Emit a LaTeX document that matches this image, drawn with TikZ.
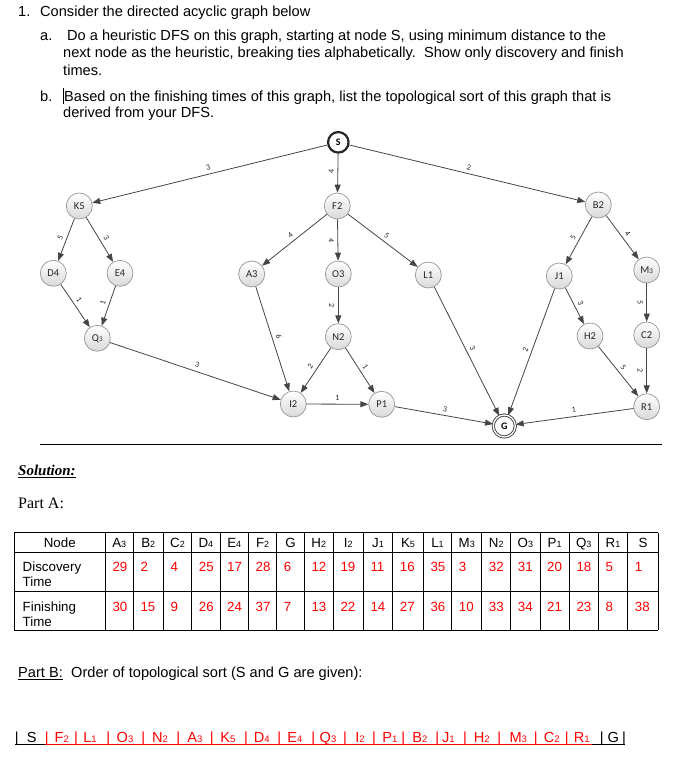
\documentclass[tikz,border=0pt]{standalone}
\usepackage{fontspec}
\setmainfont{Liberation Sans}
\newfontfamily\serifF{Liberation Serif}
\newfontfamily\calF{Carlito}
\usetikzlibrary{arrows.meta}
\newcommand\dg[1]{{\fontsize{9}{9}\selectfont #1}}
\newcommand\sdg[1]{{\fontsize{9.5}{9.5}\selectfont #1}}
\newcommand\ndg[1]{{\fontsize{7}{7}\selectfont #1}}
\definecolor{edgegray}{HTML}{454545}
\definecolor{nodegray}{HTML}{969696}
\begin{document}
\begin{tikzpicture}[x=1pt,y=-1pt,
  txt/.style={anchor=base west, inner sep=0pt, font=\fontsize{14.6}{17}\selectfont},
  sertxt/.style={anchor=base west, inner sep=0pt, font=\serifF\fontsize{16}{18}\selectfont},
  vtx/.style={circle, draw=nodegray, line width=0.7pt, top color=white, bottom color=black!15,
    minimum size=26pt, inner sep=0pt, font=\calF\fontsize{10.5}{10.5}\selectfont, text=black!85},
  conn/.style={draw=edgegray, line width=0.8pt, -{Triangle[length=8pt,width=6pt]}},
  lbl/.style={font=\calF\fontsize{8}{8}\selectfont, text=black!85, inner sep=1.5pt, sloped, midway},
  tabtxt/.style={inner sep=0pt, font=\fontsize{13.33}{15.3}\selectfont},
  seq/.style={anchor=base, inner sep=0pt, font=\fontsize{14.6}{17}\selectfont},
]
\useasboundingbox (0,0) rectangle (678,760);

% ---------- question text ----------
\node[txt] (q1n) at (18,17) {1.};
\node[txt] (q1) at (40,17) {Consider the directed acyclic graph below};
\node[txt] (qan) at (40,41) {a.};
\node[txt] (qa1) at (67,41) {Do a heuristic DFS on this graph, starting at node S, using minimum distance to the};
\node[txt] (qa2) at (63,58) {next node as the heuristic, breaking ties alphabetically.\ \ Show only discovery and finish};
\node[txt] (qa3) at (63,75) {times.};
\node[txt] (qbn) at (40,101) {b.};
\node[txt] (qb1) at (64,101) {Based on the finishing times of this graph, list the topological sort of this graph that is};
\node[txt] (qb2) at (63,117) {derived from your DFS.};
\draw[line width=0.6pt] (63,88) -- (63,104);

% ---------- graph ----------
\node[circle, draw=black!85, line width=2.2pt, fill=white, minimum size=20.5pt, inner sep=0pt,
  font=\calF\bfseries\fontsize{10}{10}\selectfont] (S) at (338.3,142.3) {S};
\node[vtx] (K5) at (79.3,206) {K5};
\node[vtx] (F2) at (337.3,206) {F2};
\node[vtx] (B2) at (598.3,205) {B2};
\node[vtx] (D4) at (53.3,273.3) {D4};
\node[vtx] (E4) at (120,273.3) {E4};
\node[vtx] (A3) at (251.7,274) {A3};
\node[vtx] (O3) at (338.3,274) {O3};
\node[vtx] (L1) at (428.3,275) {L1};
\node[vtx] (J1) at (559.3,276) {J1};
\node[vtx] (M3) at (646.7,270) {M\ndg{3}};
\node[vtx] (Q3) at (97.3,338.3) {Q\ndg{3}};
\node[vtx] (N2) at (338.3,336.7) {N2};
\node[vtx] (H2) at (590,336) {H2};
\node[vtx] (C2) at (646.7,335) {C2};
\node[vtx] (I2) at (293.3,404) {I2};
\node[vtx] (P1) at (381.7,404.3) {P1};
\node[vtx] (R1) at (646.7,406.7) {R1};
\node[circle, draw=black!75, line width=0.9pt, double=white, double distance=1.3pt, fill=white,
  minimum size=22pt, inner sep=0pt, font=\calF\bfseries\fontsize{10}{10}\selectfont] (G) at (504.3,426) {G};

\draw[conn] (S) -- node[lbl, above=2pt] {3} (K5);
\draw[conn] (S) -- node[lbl, pos=0.46, above=2pt] {4} (F2);
\draw[conn] (S) -- node[lbl, above=2pt] {2} (B2);
\draw[conn] (K5) -- node[lbl, above=2pt] {5} (D4);
\draw[conn] (K5) -- node[lbl, pos=0.54, above=2pt] {3} (E4);
\draw[conn] (F2) -- node[lbl, above=2pt] {4} (A3);
\draw[conn] (F2) -- node[lbl, below=2pt] {4} (O3);
\draw[conn] (F2) -- node[lbl, above=2pt] {5} (L1);
\draw[conn] (B2) -- node[lbl, above=2pt] {5} (J1);
\draw[conn] (B2) -- node[lbl, above=2pt] {4} (M3);
\draw[conn] (D4) -- node[lbl, pos=0.45, above=2pt] {1} (Q3);
\draw[conn] (E4) -- node[lbl, pos=0.47, above=2pt] {1} (Q3);
\draw[conn] (A3) -- node[lbl, above=2pt] {6} (I2);
\draw[conn] (O3) -- node[lbl, below=2pt] {2} (N2);
\draw[conn] (L1) -- node[lbl, above=2pt] {3} (G);
\draw[conn] (J1) -- node[lbl, above=2pt] {2} (G);
\draw[conn] (J1) -- node[lbl, above=2pt] {3} (H2);
\draw[conn] (M3) -- node[lbl, below=2pt] {5} (C2);
\draw[conn] (Q3) -- node[lbl, above=2pt] {3} (I2);
\draw[conn] (N2) -- node[lbl, above=2pt] {2} (I2);
\draw[conn] (N2) -- node[lbl, above=2pt] {1} (P1);
\draw[conn] (H2) -- node[lbl, above=2pt] {5} (R1);
\draw[conn] (C2) -- node[lbl, below=2pt] {2} (R1);
\draw[conn] (I2) -- node[lbl, above=2pt] {1} (P1);
\draw[conn] (P1) -- node[lbl, above=2pt] {3} (G);
\draw[conn] (R1) -- node[lbl, above=2pt] {1} (G);

% rule
\draw[line width=0.9pt] (40,444.5) -- (662,444.5);

% ---------- solution ----------
\node[anchor=base west, inner sep=0pt, font=\serifF\bfseries\itshape\fontsize{15}{18}\selectfont] (sol) at (18,475) {Solution:};
\draw[line width=0.8pt] ([yshift=-2pt]sol.base west) -- ([yshift=-2pt]sol.base east);
\node[sertxt] (pa) at (18,508) {Part A:};

% ---------- table ----------
\foreach \y in {532.5,552.7,591.7,630}
  \draw[line width=0.9pt] (14.3,\y) -- (658.3,\y);
\foreach \x in {14.3,105.3,133.3,163.3,191.7,220,248.5,276.7,304.3,333.3,363.3,392.7,423.3,451.7,481.7,510.7,540,569.3,598.3,627.7,658.3}
  \draw[line width=0.9pt] (\x,532.5) -- (\x,630);
\node[tabtxt, anchor=base] (hnode) at (59.8,547.4) {Node};
\node[tabtxt, anchor=base west] (rd1) at (22.5,571.5) {Discovery};
\node[tabtxt, anchor=base west] (rd2) at (22.5,586.8) {Time};
\node[tabtxt, anchor=base west] (rf1) at (22.5,611.5) {Finishing};
\node[tabtxt, anchor=base west] (rf2) at (22.5,626.8) {Time};
\foreach \l/\xl/\xr/\dd/\ff [count=\i] in {
  A\dg{3}/105.3/133.3/29/30, B\dg{2}/133.3/163.3/2/15, C\dg{2}/163.3/191.7/4/9,
  D\dg{4}/191.7/220/25/26, E\dg{4}/220/248.5/17/24, F\dg{2}/248.5/276.7/28/37,
  G/276.7/304.3/6/7, H\dg{2}/304.3/333.3/12/13, I\dg{2}/333.3/363.3/19/22,
  J\dg{1}/363.3/392.7/11/14, K\dg{5}/392.7/423.3/16/27, L\dg{1}/423.3/451.7/35/36,
  M\dg{3}/451.7/481.7/3/10, N\dg{2}/481.7/510.7/32/33, O\dg{3}/510.7/540/31/34,
  P\dg{1}/540/569.3/20/21, Q\dg{3}/569.3/598.3/18/23, R\dg{1}/598.3/627.7/5/8,
  S/627.7/658.3/1/38}
{
  \node[tabtxt, anchor=base] (h\i) at ({(\xl+\xr)/2},547.4) {\l};
  \node[tabtxt, anchor=base west, text=red] (d\i) at ({\xl+7},571.5) {\dd};
  \node[tabtxt, anchor=base west, text=red] (f\i) at ({\xl+7},611.5) {\ff};
}

% ---------- part B ----------
\node[txt] (pb) at (18,677) {Part B:};
\draw[line width=0.8pt] ([yshift=-2pt]pb.base west) -- ([yshift=-2pt]pb.base east);
\node[txt, anchor=base west] (pbt) at ([xshift=8pt]pb.base east) {Order of topological sort (S and G are given):};

\foreach \t/\x [count=\i] in {|/16.7, S/31.7}
  \node[seq] (sa\i) at (\x,742.3) {\t};
\foreach \t/\x [count=\i] in {|/46.7, F\sdg{2}/61.7, |/76, L\sdg{1}/90, |/108.3, O\sdg{3}/125, |/143.3,
  N\sdg{2}/160, |/178.3, A\sdg{3}/195, |/211.7, K\sdg{5}/228, |/246, D\sdg{4}/261.7, |/279.3,
  E\sdg{4}/295, |/313.3, Q\sdg{3}/328, |/345, I\sdg{2}/360, |/374, P\sdg{1}/390, |/403.3,
  B\sdg{2}/420, |/437.3, J\sdg{1}/448.3, |/465, H\sdg{2}/481.7, |/499.3, M\sdg{3}/518.3,
  |/535.7, C\sdg{2}/551.7, |/566.7, R\sdg{1}/581.7}
  \node[seq, text=red] (sr\i) at (\x,742.3) {\t};
\foreach \t/\x [count=\i] in {|/601.7, G/613.3, |/624}
  \node[seq] (sg\i) at (\x,742.3) {\t};
\draw[line width=0.8pt] (15,744.5) -- (45,744.5);
\draw[red, line width=0.8pt] (45,744.5) -- (592,744.5);
\draw[line width=0.8pt] (592,744.5) -- (625,744.5);
\end{tikzpicture}
\end{document}
